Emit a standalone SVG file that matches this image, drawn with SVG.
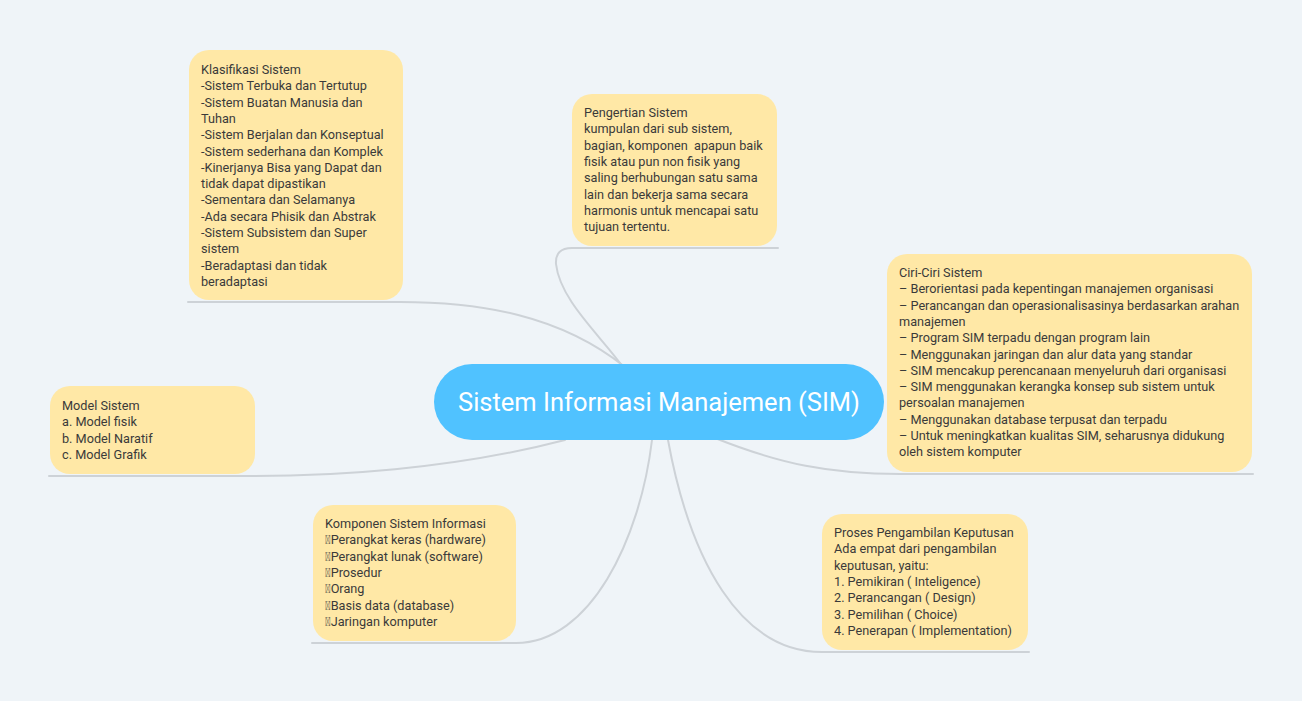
<svg xmlns="http://www.w3.org/2000/svg" width="1302" height="701" viewBox="0 0 1302 701">
<style>
.bg{fill:#EFF4F8}
.conn{fill:none;stroke:#CDD2D7;stroke-width:2;stroke-linecap:round}
.box{fill:#FFE8A6}
.t{font-family:Roboto,"Liberation Sans",sans-serif;font-size:12.7px;fill:#3A3A3A;white-space:pre}
.root{fill:#50C2FF}
.rt{font-family:Roboto,"Liberation Sans",sans-serif;font-size:25.5px;fill:#FFFFFF}
</style>
<rect class="bg" x="0" y="0" width="1302" height="701"/>
<g id="connectors">
<path class="conn" d="M 625 367 C 560 315, 480 302, 400 302 L 188 302"/>
<path class="conn" d="M 623 367 C 600 335, 560 300, 556 264 Q 555 248 572 248 L 778 248"/>
<path class="conn" d="M 715 438 C 780 464, 830 474, 900 474 L 1253 474"/>
<path class="conn" d="M 565 440 C 450 470, 330 476, 255 476 L 49 476"/>
<path class="conn" d="M 652 440 C 640 540, 590 643, 516 643 L 312 643"/>
<path class="conn" d="M 668 440 C 690 560, 740 652, 822 652 L 1029 652"/>
</g>
<g id="root">
<rect class="root" x="434" y="364" width="450" height="76" rx="38"/>
<text class="rt" x="659" y="411" text-anchor="middle">Sistem Informasi Manajemen (SIM)</text>
</g>
<g id="klasifikasi">
<rect class="box" x="189" y="50" width="214" height="250" rx="20"/>
<text class="t">
<tspan x="201" y="74">Klasifikasi Sistem</tspan>
<tspan x="201" dy="16.3">-Sistem Terbuka dan Tertutup</tspan>
<tspan x="201" dy="16.3">-Sistem Buatan Manusia dan</tspan>
<tspan x="201" dy="16.3">Tuhan</tspan>
<tspan x="201" dy="16.3">-Sistem Berjalan dan Konseptual</tspan>
<tspan x="201" dy="16.3">-Sistem sederhana dan Komplek</tspan>
<tspan x="201" dy="16.3">-Kinerjanya Bisa yang Dapat dan</tspan>
<tspan x="201" dy="16.3">tidak dapat dipastikan</tspan>
<tspan x="201" dy="16.3">-Sementara dan Selamanya</tspan>
<tspan x="201" dy="16.3">-Ada secara Phisik dan Abstrak</tspan>
<tspan x="201" dy="16.3">-Sistem Subsistem dan Super</tspan>
<tspan x="201" dy="16.3">sistem</tspan>
<tspan x="201" dy="16.3">-Beradaptasi dan tidak</tspan>
<tspan x="201" dy="16.3">beradaptasi</tspan>
</text>
</g>
<g id="pengertian">
<rect class="box" x="572" y="94" width="205" height="152" rx="20"/>
<text class="t">
<tspan x="584" y="117">Pengertian Sistem</tspan>
<tspan x="584" dy="16.3">kumpulan dari sub sistem,</tspan>
<tspan x="584" dy="16.3">bagian, komponen  apapun baik</tspan>
<tspan x="584" dy="16.3">fisik atau pun non fisik yang</tspan>
<tspan x="584" dy="16.3">saling berhubungan satu sama</tspan>
<tspan x="584" dy="16.3">lain dan bekerja sama secara</tspan>
<tspan x="584" dy="16.3">harmonis untuk mencapai satu</tspan>
<tspan x="584" dy="16.3">tujuan tertentu.</tspan>
</text>
</g>
<g id="ciri">
<rect class="box" x="887" y="254" width="365" height="218" rx="20"/>
<text class="t">
<tspan x="899" y="277">Ciri-Ciri Sistem</tspan>
<tspan x="899" dy="16.3">– Berorientasi pada kepentingan manajemen organisasi</tspan>
<tspan x="899" dy="16.3">– Perancangan dan operasionalisasinya berdasarkan arahan</tspan>
<tspan x="899" dy="16.3">manajemen</tspan>
<tspan x="899" dy="16.3">– Program SIM terpadu dengan program lain</tspan>
<tspan x="899" dy="16.3">– Menggunakan jaringan dan alur data yang standar</tspan>
<tspan x="899" dy="16.3">– SIM mencakup perencanaan menyeluruh dari organisasi</tspan>
<tspan x="899" dy="16.3">– SIM menggunakan kerangka konsep sub sistem untuk</tspan>
<tspan x="899" dy="16.3">persoalan manajemen</tspan>
<tspan x="899" dy="16.3">– Menggunakan database terpusat dan terpadu</tspan>
<tspan x="899" dy="16.3">– Untuk meningkatkan kualitas SIM, seharusnya didukung</tspan>
<tspan x="899" dy="16.3">oleh sistem komputer</tspan>
</text>
</g>
<g id="model">
<rect class="box" x="50" y="386" width="205" height="88" rx="20"/>
<text class="t">
<tspan x="62" y="410">Model Sistem</tspan>
<tspan x="62" dy="16.3">a. Model fisik</tspan>
<tspan x="62" dy="16.3">b. Model Naratif</tspan>
<tspan x="62" dy="16.3">c. Model Grafik</tspan>
</text>
</g>
<g id="komponen">
<rect class="box" x="313" y="505" width="203" height="136" rx="20"/>
<text class="t">
<tspan x="325" y="528">Komponen Sistem Informasi</tspan>
<tspan x="325" dy="16.3">&#xF0B7;Perangkat keras (hardware)</tspan>
<tspan x="325" dy="16.3">&#xF0B7;Perangkat lunak (software)</tspan>
<tspan x="325" dy="16.3">&#xF0B7;Prosedur</tspan>
<tspan x="325" dy="16.3">&#xF0B7;Orang</tspan>
<tspan x="325" dy="16.3">&#xF0B7;Basis data (database)</tspan>
<tspan x="325" dy="16.3">&#xF0B7;Jaringan komputer</tspan>
</text>
</g>
<g id="proses">
<rect class="box" x="822" y="514" width="206" height="136" rx="20"/>
<text class="t">
<tspan x="834" y="537">Proses Pengambilan Keputusan</tspan>
<tspan x="834" dy="16.3">Ada empat dari pengambilan</tspan>
<tspan x="834" dy="16.3">keputusan, yaitu:</tspan>
<tspan x="834" dy="16.3">1. Pemikiran ( Inteligence)</tspan>
<tspan x="834" dy="16.3">2. Perancangan ( Design)</tspan>
<tspan x="834" dy="16.3">3. Pemilihan ( Choice)</tspan>
<tspan x="834" dy="16.3">4. Penerapan ( Implementation)</tspan>
</text>
</g>
</svg>
